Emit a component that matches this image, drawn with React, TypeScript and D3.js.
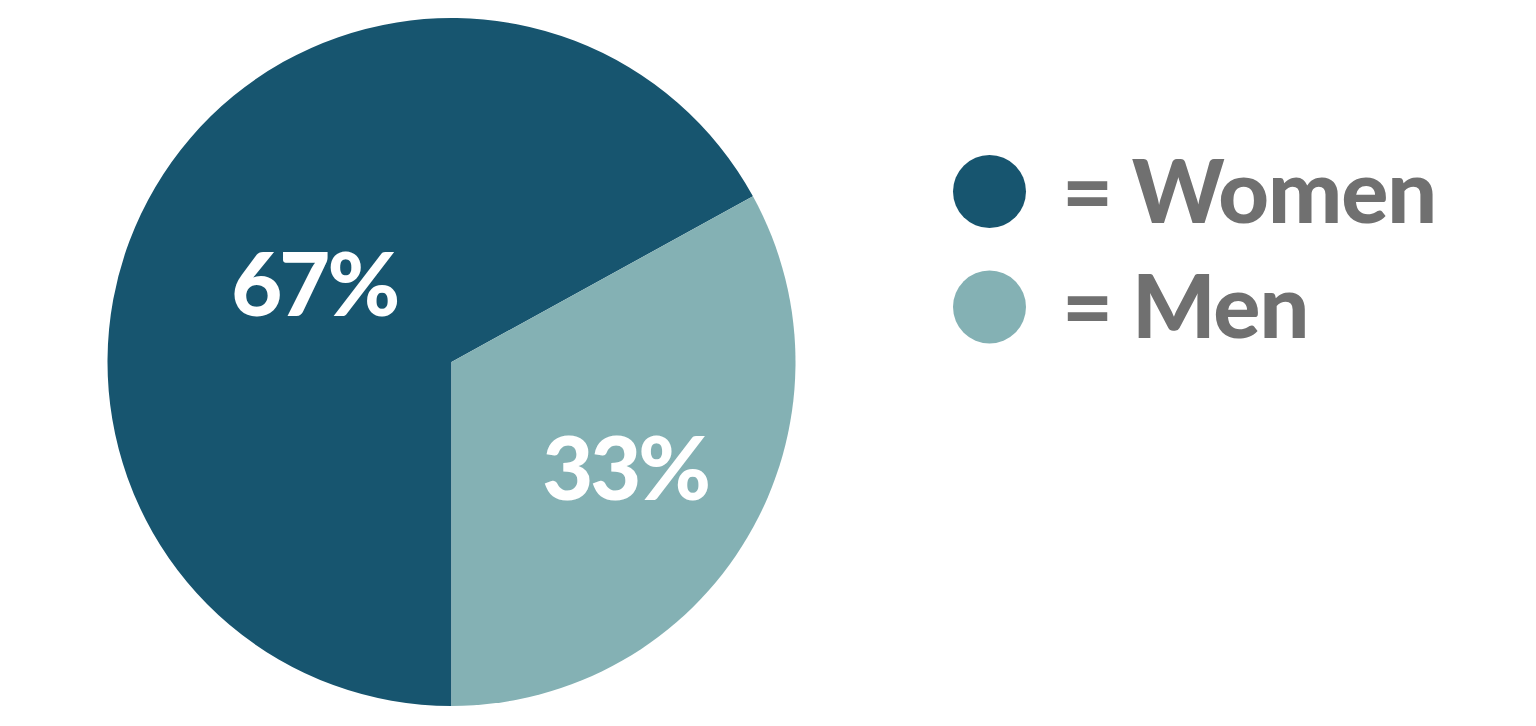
import * as d3 from 'd3';

const categories = ['Women', 'Men'];
const shares = [67, 33];
const colors = ['#17556f', '#84b1b4'];

export default function App() {
  const w = 1536;
  const h = 726;
  const cx = 451.5;
  const cy = 362;
  const radius = 344;

  const pie = d3
    .pie<number>()
    .sort(null)
    .startAngle(Math.PI)
    .endAngle(3 * Math.PI);
  const slices = pie(shares);

  const arc = d3.arc<d3.PieArcDatum<number>>().innerRadius(0).outerRadius(radius);

  // labels sit at different distances from the centre
  const labelFactor = [0.45, 0.6];

  const legendY = d3
    .scalePoint<string>()
    .domain(categories)
    .range([191.5, 307]);

  return (
    <svg
      width={w}
      height={h}
      style={{ position: 'absolute', left: 0, top: 0, background: '#fff' }}
    >
      <g transform={`translate(${cx},${cy})`}>
        {slices.map((s, i) => (
          <path key={categories[i]} d={arc(s) ?? ''} fill={colors[i]} />
        ))}
        {slices.map((s, i) => {
          const r = radius * labelFactor[i];
          const [lx, ly] = d3
            .arc<d3.PieArcDatum<number>>()
            .innerRadius(r)
            .outerRadius(r)
            .centroid(s);
          return (
            <text
              key={categories[i]}
              x={lx - 4}
              y={ly + 33}
              textAnchor='middle'
              fill='#fff'
              fontFamily='Lato, sans-serif'
              fontWeight={900}
              fontSize={88}
              letterSpacing={-3}
            >
              {`${shares[i]}%`}
            </text>
          );
        })}
      </g>
      {categories.map((c, i) => (
        <g key={c} transform={`translate(0,${legendY(c)})`}>
          <circle cx={989.5} cy={0} r={36.5} fill={colors[i]} />
          <text
            x={1062}
            y={31}
            fill='#707070'
            fontFamily='Lato, sans-serif'
            fontWeight={900}
            fontSize={88}
            letterSpacing={-1}
          >
            {`= ${c}`}
          </text>
        </g>
      ))}
    </svg>
  );
}
